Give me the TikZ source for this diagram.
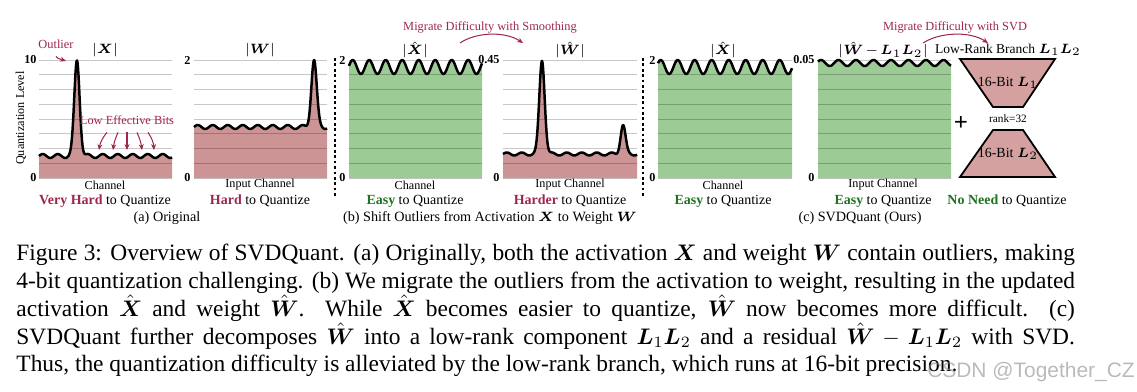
\documentclass[tikz,border=0pt]{standalone}
\usepackage{fontspec}
\setmainfont{Liberation Serif}
\newfontfamily\wmfont{Liberation Sans}
\usepackage{amsmath}
\usepackage{xcolor}
\usetikzlibrary{arrows.meta}

\definecolor{hardred}{RGB}{158,38,72}
\definecolor{easygreen}{RGB}{30,115,30}
\definecolor{plotred}{RGB}{204,148,148}
\definecolor{plotgreen}{RGB}{157,203,149}
\definecolor{trapred}{RGB}{213,160,160}

\begin{document}
\begin{tikzpicture}[
  x=0.444pt, y=-0.444pt,
  declare function={
    wa(\x)=156-2*sin(\x/15*360)-96*exp(-min(((\x-38)/3.8)^2,9));
    wb(\x)=127-2*sin(\x/15*360)-67*exp(-min(((\x-120)/3.8)^2,9));
    wc(\x)=67-7*cos((\x-3.7)/16.5*360);
    wd(\x)=154-1.5*sin(\x/15*360)-94*exp(-min(((\x-39)/3.8)^2,9))-29*exp(-min(((\x-120)/3.5)^2,9));
    we(\x)=67-7*cos((\x-2.7)/17*360);
    wf(\x)=63-3*cos((\x-3)/17.5*360);
  },
  gridln/.style={black,opacity=0.22,line width=0.45pt},
  sigline/.style={line width=1.1pt,line join=round},
  ticklbl/.style={font=\fontsize{5.4}{6}\selectfont\bfseries,anchor=east,inner sep=0pt},
  ttl/.style={font=\fontsize{6.2}{7}\selectfont},
  axlbl/.style={font=\fontsize{5.4}{6}\selectfont},
  verdict/.style={font=\fontsize{6.2}{7}\selectfont},
  subcap/.style={font=\fontsize{6.3}{8}\selectfont},
  mig/.style={font=\fontsize{5.5}{6}\selectfont,text=hardred},
  diffarr/.style={hardred,line width=0.45pt,-{Stealth[length=2.6pt,width=2.2pt]}},
  sepline/.style={line width=0.8pt,dash pattern=on 1.2pt off 1.2pt},
  lowrank/.style={draw,fill=trapred,line width=0.8pt,line join=miter},
  >=latex
]
  \useasboundingbox (0,0) rectangle (1137,391);

  %% ===== (a) ORIGINAL =====

  % activation |X|
  \begin{scope}[shift={(39,0)}]
    \fill[plotred] (0,178) -- plot[domain=0:133,samples=267] (\x,{wa(\x)}) -- (133,178) -- cycle;
    \foreach \k in {0,...,8}
      \draw[gridln] (0,{60+\k*14.75}) -- (133,{60+\k*14.75});
    \draw[sigline] plot[domain=0:133,samples=267] (\x,{wa(\x)});
    \node[ticklbl] (xa-hi) at (-2,60) {10};
    \node[ticklbl] (xa-lo) at (-2,178) {0};
    \node[ttl] (xa-t) at (66,50) {$|\boldsymbol{X}|$};
    \node[axlbl] (xa-ax) at (66,185) {Channel};
    \node[verdict] (xa-v) at (66,201) {\textbf{\color{hardred}Very Hard} to Quantize};
    \coordinate (pk-a) at (27,61);
  \end{scope}
  \node[axlbl,rotate=90] (ylab) at (21,118) {Quantization Level};

  % outlier and low effective bits
  \node[mig] (outl) at (56,44) {Outlier};
  \draw[diffarr] (outl.south) .. controls (57,58) .. (pk-a);
  \node[mig] (leb) at (127,120) {Low Effective Bits};
  \foreach \i/\tx/\hx/\bd in {1/107/99/-15,2/118/113/-8,3/127/127/0,4/137/142/8,5/148/154/15} {
    \coordinate (lo\i) at (\hx,150);
    \draw[diffarr] (\tx,0 |- leb.south) to[bend left=\bd] (lo\i);
  }

  % weight |W|
  \begin{scope}[shift={(194,0)}]
    \fill[plotred] (0,178) -- plot[domain=0:133,samples=267] (\x,{wb(\x)}) -- (133,178) -- cycle;
    \foreach \k in {0,...,8}
      \draw[gridln] (0,{60+\k*14.75}) -- (133,{60+\k*14.75});
    \draw[sigline] plot[domain=0:133,samples=267] (\x,{wb(\x)});
    \node[ticklbl] (wa-hi) at (-3,60) {2};
    \node[ticklbl] (wa-lo) at (-3,178) {0};
    \node[ttl] (wa-t) at (66,50) {$|\boldsymbol{W}|$};
    \node[axlbl] (wa-ax) at (66,185) {Input Channel};
    \node[verdict] (wa-v) at (66,201) {\textbf{\color{hardred}Hard} to Quantize};
  \end{scope}

  \node[subcap] (cap-a) at (167,218) {(a) Original};
  \draw[sepline] (335,58) -- (335,197);

  %% ===== (b) SMOOTHING =====

  % smoothed activation
  \begin{scope}[shift={(349,0)}]
    \fill[plotgreen] (0,178) -- plot[domain=0:133,samples=267] (\x,{wc(\x)}) -- (133,178) -- cycle;
    \foreach \k in {0,...,8}
      \draw[gridln] (0,{60+\k*14.75}) -- (133,{60+\k*14.75});
    \draw[sigline] plot[domain=0:133,samples=267] (\x,{wc(\x)});
    \node[ticklbl] (xb-hi) at (-3,60) {2};
    \node[ticklbl] (xb-lo) at (-3,178) {0};
    \node[ttl] (xb-t) at (66,50) {$|\hat{\boldsymbol{X}}|$};
    \node[axlbl] (xb-ax) at (66,185) {Channel};
    \node[verdict] (xb-v) at (66,201) {\textbf{\color{easygreen}Easy} to Quantize};
  \end{scope}

  % smoothed weight
  \begin{scope}[shift={(503,0)}]
    \fill[plotred] (0,178) -- plot[domain=0:134,samples=269] (\x,{wd(\x)}) -- (134,178) -- cycle;
    \foreach \k in {0,...,8}
      \draw[gridln] (0,{60+\k*14.75}) -- (134,{60+\k*14.75});
    \draw[sigline] plot[domain=0:134,samples=269] (\x,{wd(\x)});
    \node[ticklbl] (wb-hi) at (-3,60) {0.45};
    \node[ticklbl] (wb-lo) at (-3,178) {0};
    \node[ttl] (wb-t) at (67,50) {$|\hat{\boldsymbol{W}}|$};
    \node[axlbl] (wb-ax) at (67,185) {Input Channel};
    \node[verdict] (wb-v) at (67,201) {\textbf{\color{hardred}Harder} to Quantize};
  \end{scope}

  \node[mig] (mg-s) at (490,27) {Migrate Difficulty with Smoothing};
  \coordinate (mgs-a) at (460,43);
  \coordinate (mgs-b) at (523,43);
  \draw[diffarr] (mgs-a) .. controls (476,32) and (505,31) .. (mgs-b);

  \node[subcap] (cap-b) at (490,218) {(b) Shift Outliers from Activation $\boldsymbol{X}$ to Weight $\boldsymbol{W}$};
  \draw[sepline] (643,58) -- (643,197);

  %% ===== (c) SVDQUANT =====

  % activation stays smooth
  \begin{scope}[shift={(658,0)}]
    \fill[plotgreen] (0,178) -- plot[domain=0:134,samples=269] (\x,{we(\x)}) -- (134,178) -- cycle;
    \foreach \k in {0,...,8}
      \draw[gridln] (0,{60+\k*14.75}) -- (134,{60+\k*14.75});
    \draw[sigline] plot[domain=0:134,samples=269] (\x,{we(\x)});
    \node[ticklbl] (xc-hi) at (-2,60) {2};
    \node[ticklbl] (xc-lo) at (-2,178) {0};
    \node[ttl] (xc-t) at (65,50) {$|\hat{\boldsymbol{X}}|$};
    \node[axlbl] (xc-ax) at (65,185) {Channel};
    \node[verdict] (xc-v) at (65,201) {\textbf{\color{easygreen}Easy} to Quantize};
  \end{scope}

  % residual weight
  \begin{scope}[shift={(818,0)}]
    \fill[plotgreen] (0,178) -- plot[domain=0:133,samples=267] (\x,{wf(\x)}) -- (133,178) -- cycle;
    \foreach \k in {0,...,8}
      \draw[gridln] (0,{60+\k*14.75}) -- (133,{60+\k*14.75});
    \draw[sigline] plot[domain=0:133,samples=267] (\x,{wf(\x)});
    \node[ticklbl] (wc-hi) at (-3,60) {0.05};
    \node[ticklbl] (wc-lo) at (-3,178) {0};
    \node[ttl] (wc-t) at (65,50) {$|\hat{\boldsymbol{W}}\mskip2mu{-}\mskip2mu\boldsymbol{L}_1\boldsymbol{L}_2|$};
    \node[axlbl] (wc-ax) at (65,185) {Input Channel};
    \node[verdict] (wc-v) at (65,201) {\textbf{\color{easygreen}Easy} to Quantize};
  \end{scope}

  % low-rank branch
  \draw[lowrank] (960,59) -- (1055,59) -- (1023,107) -- (993,107) -- cycle;
  \draw[lowrank] (993,130) -- (1023,130) -- (1055,177) -- (960,177) -- cycle;
  \node[font=\fontsize{6}{7}\selectfont] (lr-t) at (1008,50) {Low-Rank Branch $\boldsymbol{L}_1\boldsymbol{L}_2$};
  \node[ttl] (lr-1) at (1008,83) {16-Bit $\boldsymbol{L}_1$};
  \node[font=\fontsize{5}{6}\selectfont] (lr-r) at (1008,119) {rank=32};
  \node[ttl] (lr-2) at (1008,154) {16-Bit $\boldsymbol{L}_2$};
  \node[font=\fontsize{11}{12}\selectfont\bfseries] (plus) at (961,123) {+};
  \node[verdict] (lr-v) at (1007,201) {\textbf{\color{easygreen}No Need} to Quantize};

  \node[mig] (mg-v) at (955,27) {Migrate Difficulty with SVD};
  \coordinate (mgv-a) at (923,43);
  \coordinate (mgv-b) at (988,43);
  \draw[diffarr] (mgv-a) .. controls (940,32) and (970,31) .. (mgv-b);

  \node[subcap] (cap-c) at (860,218) {(c) SVDQuant (Ours)};

  %% ===== CAPTION =====
  \node[anchor=base west,text width=470pt,align=justify,inner sep=0pt,
        font=\fontsize{10.4}{12.43}\selectfont] (caption) at (16,260)
    {Figure 3: Overview of SVDQuant. (a) Originally, both the activation $\boldsymbol{X}$ and weight $\boldsymbol{W}$ contain outliers, making\linebreak
     4-bit quantization challenging. (b) We migrate the outliers from the activation to weight, resulting in the updated\linebreak
     activation $\hat{\boldsymbol{X}}$ and weight $\hat{\boldsymbol{W}}$. While $\hat{\boldsymbol{X}}$ becomes easier to quantize, $\hat{\boldsymbol{W}}$ now becomes more difficult. (c)\linebreak
     SVDQuant further decomposes $\hat{\boldsymbol{W}}$ into a low-rank component $\boldsymbol{L}_1\boldsymbol{L}_2$ and a residual $\hat{\boldsymbol{W}}-\boldsymbol{L}_1\boldsymbol{L}_2$ with SVD.\linebreak
     Thus, the quantization difficulty is alleviated by the low-rank branch, which runs at 16-bit precision.};

  % watermark
  \node[font=\fontsize{9.3}{10}\selectfont\wmfont,text=black!45,opacity=0.6] (wm) at (1031,372) {CSDN @Together\_CZ};

\end{tikzpicture}
\end{document}
